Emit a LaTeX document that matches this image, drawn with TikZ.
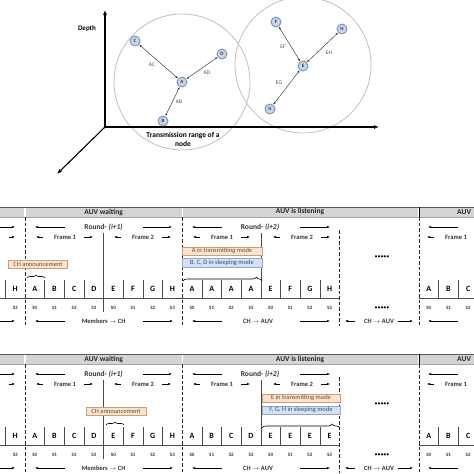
\documentclass[tikz,border=0pt]{standalone}
\usepackage{fontspec}
\setmainfont{Carlito}
\usetikzlibrary{arrows.meta,decorations.pathreplacing}

\definecolor{nodefill}{HTML}{C6D6EA}
\definecolor{nodeline}{HTML}{7B93B3}
\definecolor{txfill}{HTML}{FBE3CF}
\definecolor{txline}{HTML}{C8A07A}
\definecolor{txtext}{HTML}{7A4A1E}
\definecolor{slfill}{HTML}{D6E2F1}
\definecolor{slline}{HTML}{8EA9CF}
\definecolor{sltext}{HTML}{2F4F7F}
\definecolor{hdrfill}{HTML}{D4D4D4}

\tikzset{
  sensor/.style={circle,draw=nodeline,fill=nodefill,line width=0.9pt,minimum size=10pt,inner sep=0pt,font=\fontsize{5}{5}\selectfont\bfseries,text=black!80},
  link/.style={{Latex[length=2.5pt,width=2pt]}-{Latex[length=2.5pt,width=2pt]},line width=0.45pt,draw=black!80},
  linklabel/.style={font=\fontsize{5.5}{6}\selectfont,text=black!70},
  axis/.style={-{Latex[length=5pt,width=4pt]},line width=1.1pt},
  txrange/.style={draw=black!25,line width=0.8pt},
  hdrtext/.style={font=\fontsize{7.5}{8}\selectfont\bfseries,text=black!85,inner sep=0pt},
  roundtext/.style={font=\fontsize{7.5}{8}\selectfont\bfseries,text=black!80,inner sep=0pt},
  rowtext/.style={font=\fontsize{6.5}{7}\selectfont\bfseries,text=black!80,inner sep=0pt},
  smalltext/.style={font=\fontsize{6.5}{7}\selectfont\bfseries,text=black!80,inner sep=0pt},
  slottext/.style={font=\fontsize{8}{9}\selectfont\bfseries,inner sep=0pt},
  stext/.style={font=\fontsize{5}{5}\selectfont\bfseries,text=black!80,inner sep=0pt},
  dotstext/.style={font=\fontsize{6}{6}\selectfont,inner sep=0pt},
  rowarrow/.style={-{Latex[length=3pt,width=2.2pt]},line width=0.45pt},
  sepline/.style={draw=black!85,dash pattern=on 3.5pt off 2pt,line width=0.8pt},
  midline/.style={line width=0.5pt,draw=black!70},
  slotline/.style={line width=0.45pt,draw=black!70},
  txbox/.style={draw=txline,fill=txfill,text=txtext,font=\fontsize{6.5}{7}\selectfont,inner sep=0.5pt,minimum height=8pt,line width=0.5pt},
  slbox/.style={draw=slline,fill=slfill,text=sltext,font=\fontsize{6.5}{7}\selectfont,inner sep=0.5pt,minimum height=8pt,line width=0.5pt},
  curly/.style={decorate,decoration={brace,amplitude=#1},line width=0.6pt},
  curly/.default=3pt
}

% one timeline: #1 name suffix, #2 slots of round (i+2)
\newcommand{\drawtimeline}[2]{
  % header
  \fill[hdrfill] (0,207) rectangle (24.3,217);
  \fill[hdrfill] (25.7,207) rectangle (181.5,217);
  \fill[hdrfill] (182.9,207) rectangle (418.3,217);
  \fill[hdrfill] (419.7,207) rectangle (474,217);
  \draw[black!65,line width=1pt] (0,207.5) -- (474,207.5);
  \draw[black!35,line width=0.4pt] (0,217) -- (474,217);
  \draw[line width=0.8pt] (419.5,207) -- (419.5,217);
  \node[hdrtext] (wait#1) at (103.6,212) {AUV waiting};
  \node[hdrtext] (listen#1) at (300,212) {AUV is listening};
  \node[hdrtext,anchor=west] (next#1) at (457,212) {AUV};
  % round borders
  \draw[sepline] (25.5,217) -- (25.5,326);
  \draw[sepline] (182.5,217) -- (182.5,326);
  \draw[sepline] (419.5,217) -- (419.5,326);
  \draw[sepline] (339.5,230) -- (339.5,326);
  \draw[midline] (103.6,233) -- (103.6,312);
  \draw[midline] (260.8,233) -- (260.8,298);
  % slots
  \foreach \x in {5.4,44.65,64.3,83.95,123.25,142.9,162.55,201.85,221.5,241.15,280.45,300.1,319.75,438.65,458.3}
    \draw[slotline] (\x,280) -- (\x,298);
  \draw[slotline] (0,298) -- (339.4,298);
  \draw[slotline] (419,298) -- (474,298);
  \node[slottext] (last#1) at (15.2,289) {H};
  \node[stext] (slast#1) at (15.2,308) {S3};
  \foreach \s [count=\k from 0] in {A,B,C,D,E,F,G,H}{
    \pgfmathtruncatemacro\m{mod(\k,4)}
    \node[slottext] (p\k#1) at ({25+(\k+0.5)*19.65},289) {\s};
    \node[stext] (sp\k#1) at ({25+(\k+0.5)*19.65},308) {S\m};
  }
  \foreach \s [count=\k from 0] in {#2}{
    \pgfmathtruncatemacro\m{mod(\k,4)}
    \node[slottext] (q\k#1) at ({182.2+(\k+0.5)*19.65},289) {\s};
    \node[stext] (sq\k#1) at ({182.2+(\k+0.5)*19.65},308) {S\m};
  }
  \foreach \s [count=\k from 0] in {A,B,C}{
    \node[slottext] (r\k#1) at ({419+(\k+0.5)*19.65},289) {\s};
    \node[stext] (sr\k#1) at ({419+(\k+0.5)*19.65},308) {S\k};
  }
  \node[dotstext] (gapdots#1) at (382,257) {\textbullet\textbullet\textbullet\textbullet\textbullet};
  \node[dotstext] (sgapdots#1) at (382,308) {\textbullet\textbullet\textbullet\textbullet\textbullet};
  % round row
  \draw[rowarrow] (0,227) -- (15,227);
  \draw[rowarrow] (65,227) -- (35,227);
  \node[roundtext] (roundA#1) at (103.6,227) {Round- \textit{(i+1)}};
  \draw[rowarrow] (143,227) -- (172,227);
  \draw[rowarrow] (222,227) -- (192,227);
  \node[roundtext] (roundB#1) at (260,227) {Round- \textit{(i+2)}};
  \draw[rowarrow] (300,227) -- (330,227);
  \draw[rowarrow] (458,227) -- (428,227);
  % frame row
  \draw[rowarrow] (9,237) -- (15,237);
  \foreach \c/\t in {65/1,143/2,222/1,302/2,456/1}{
    \node[rowtext] (fr\c#1) at (\c,237) {Frame \t};
    \draw[rowarrow] (\c-22,237) -- (\c-29,237);
    \ifnum\c<400
      \draw[rowarrow] (\c+19,237) -- (\c+28,237);
    \fi
  }
  % members row
  \draw[rowarrow] (0,321) -- (15,321);
  \draw[rowarrow] (65,321) -- (35,321);
  \node[smalltext] (mem#1) at (103.6,321) {Members $\rightarrow$ CH};
  \draw[rowarrow] (143,321) -- (173,321);
  \draw[rowarrow] (222,321) -- (192,321);
  \node[smalltext] (up#1) at (258,321) {CH $\rightarrow$ AUV};
  \draw[rowarrow] (300,321) -- (330,321);
  \draw[rowarrow] (355,321) -- (345,321);
  \node[smalltext] (upgap#1) at (379,321) {CH $\rightarrow$ AUV};
  \draw[rowarrow] (398,321) -- (413,321);
  \draw[rowarrow] (458,321) -- (428,321);
}

\begin{document}
\begin{tikzpicture}[x=1pt,y=-1pt]
\useasboundingbox (0,0) rectangle (474,474);
\clip (0,0) rectangle (474,474);

% transmission ranges
\draw[txrange] (182,82) circle (68pt);
\draw[txrange] (303,65) circle (68pt);

% axes
\coordinate (origin) at (105,127);
\coordinate (ztip) at (105,10);
\coordinate (xtip) at (379,127);
\coordinate (ytip) at (57,174);
\draw[axis] (origin) -- (ztip);
\draw[axis] (origin) -- (xtip);
\draw[axis] (origin) -- (ytip);
\node[font=\fontsize{7}{8}\selectfont\bfseries] (depth) at (87,29) {Depth};
\node[font=\fontsize{7.5}{9}\selectfont\bfseries,align=center,inner sep=0pt] (rangelbl) at (183,139) {Transmission range of a\\node};

% sensor nodes
\node[sensor] (A) at (182,82) {A};
\node[sensor] (B) at (163,121) {B};
\node[sensor] (C) at (135,41) {C};
\node[sensor] (D) at (222,54) {D};
\node[sensor] (E) at (303,66) {E};
\node[sensor] (F) at (276,22) {F};
\node[sensor] (G) at (270,109) {G};
\node[sensor] (H) at (342,29) {H};
\draw[link] (A) -- (B);
\draw[link] (A) -- (C);
\draw[link] (A) -- (D);
\draw[link] (E) -- (F);
\draw[link] (E) -- (G);
\draw[link] (E) -- (H);
\node[linklabel] (ab) at (179,102) {AB};
\node[linklabel] (ac) at (152,65) {AC};
\node[linklabel] (ad) at (207,73) {AD};
\node[linklabel] (ef) at (283,47) {EF};
\node[linklabel] (eg) at (279,83) {EG};
\node[linklabel] (eh) at (329,53) {EH};

% first timeline
\begin{scope}
  \drawtimeline{a}{A,A,A,A,E,F,G,H}
  \node[txbox,minimum width=59pt] (announcea) at (38,264.5) {CH announcement};
  \draw[curly] (27,278) -- (45,278);
  \node[txbox,minimum width=80pt,minimum height=8.5pt] (senda) at (222,251) {A in transmitting mode};
  \node[slbox,minimum width=80pt,minimum height=8.5pt] (sleepa) at (222,262.5) {B, C, D in sleeping mode};
  \draw[curly,decoration={aspect=0.93,amplitude=4pt}] (183,281) -- (262,281);
\end{scope}

% second timeline
\begin{scope}[shift={(0,147)}]
  \drawtimeline{b}{A,B,C,D,E,E,E,E}
  \node[txbox,minimum width=60pt] (announceb) at (116,264.5) {CH announcement};
  \draw[curly] (106,278) -- (124,278);
  \node[txbox,minimum width=78pt,minimum height=8.5pt] (sendb) at (301,251) {E in transmitting mode};
  \node[slbox,minimum width=78pt,minimum height=8.5pt] (sleepb) at (301,263) {F, G, H in sleeping mode};
  \draw[curly,decoration={aspect=0.9,amplitude=4pt}] (262,281) -- (340,281);
\end{scope}
\end{tikzpicture}
\end{document}
